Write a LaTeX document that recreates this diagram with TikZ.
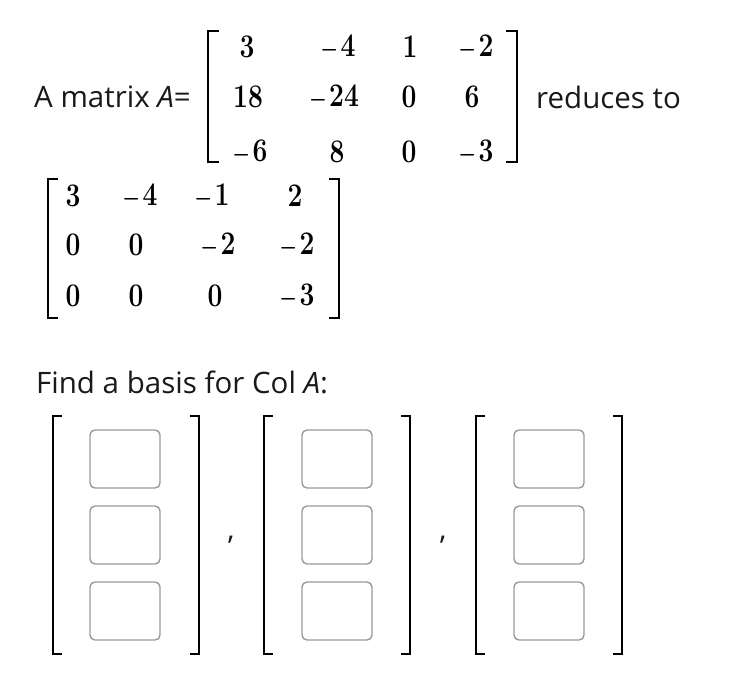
\documentclass[tikz,border=0pt]{standalone}
\usepackage{fontspec}
\usepackage{graphicx}
\setsansfont{Open Sans}
\newcommand{\ment}[1]{\scalebox{0.8}[1]{\fontsize{33}{33}\selectfont\bfseries\boldmath #1}}
\newcommand{\mm}{$-$\hspace{3pt}}
\begin{document}
\begin{tikzpicture}[x=1pt,y=-1pt,
  ent/.style={inner sep=0pt, anchor=center},
  txt/.style={font=\sffamily\fontsize{29.5}{34}\selectfont, inner sep=0pt, text=black!90},
  brk/.style={line width=2.6pt},
  abox/.style={draw=black!40, line width=1.4pt, rounded corners=5pt, minimum width=70pt, minimum height=58pt, inner sep=0pt}]
\useasboundingbox (0,0) rectangle (746,690);
% text
\node[txt, anchor=west] (t1) at (34,97) {A matrix \textit{A}=};
\node[txt, anchor=west] (t2) at (536,97) {reduces to};
\node[txt, anchor=west] (t3) at (36,382) {Find a basis for Col \textit{A}:};
% matrix A
\draw[brk] (219,31) -- (208,31) -- (208,162) -- (219,162);
\draw[brk] (506,31) -- (517,31) -- (517,162) -- (506,162);
\foreach \s/\x/\y in {3/247/47, \mm4/338/47, 1/410/47, \mm2/476/47,
  18/248/97, \mm24/334/97, 0/409/97, 6/472/97,
  \mm6/250/152, 8/337/152, 0/409/152, \mm3/476/152}
  \node[ent] at (\x,\y) {\ment{\s}};
% reduced matrix
\draw[brk] (58,179) -- (48,179) -- (48,318) -- (58,318);
\draw[brk] (329,179) -- (339,179) -- (339,318) -- (329,318);
\foreach \s/\x/\y in {3/73/196, \mm4/140/196, \mm1/212/196, 2/295/196,
  0/73/245, 0/136/245, \mm2/218/245, \mm2/297/245,
  0/73/296, 0/136/296, 0/215/296, \mm3/297/296}
  \node[ent] at (\x,\y) {\ment{\s}};
% basis vectors
\foreach \i/\l/\bx in {1/53/125, 2/264/337, 3/476/549} {
  \draw[brk] (\l+9,416) -- (\l,416) -- (\l,654) -- (\l+9,654);
  \draw[brk] (\l+137,416) -- (\l+146,416) -- (\l+146,654) -- (\l+137,654);
  \node[abox] (b\i a) at (\bx,459) {};
  \node[abox] (b\i b) at (\bx,535) {};
  \node[abox] (b\i c) at (\bx,611) {};
}
\node[txt] (c1) at (231,540) {,};
\node[txt] (c2) at (443,540) {,};
\end{tikzpicture}
\end{document}
